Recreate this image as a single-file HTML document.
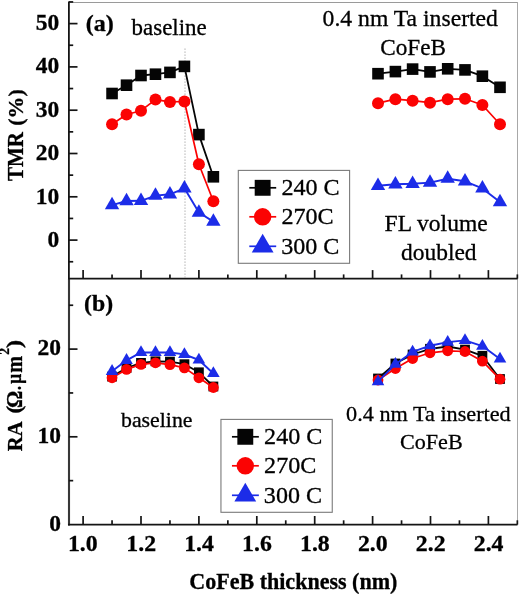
<!DOCTYPE html>
<html><head><meta charset="utf-8"><style>
html,body{margin:0;padding:0;background:#fff;}
svg{display:block;}
text{font-family:"Liberation Serif", "Times New Roman", serif;fill:#000;}
</style></head><body>
<svg width="520" height="594" viewBox="0 0 520 594">
<rect width="520" height="594" fill="#fff"/>
<line x1="68.9" y1="2.5" x2="517.5" y2="2.5" stroke="#9a9a9a" stroke-width="1"/>
<line x1="517.5" y1="2.0" x2="517.5" y2="524.6" stroke="#a8a8a8" stroke-width="1"/>
<line x1="68.9" y1="1.5" x2="68.9" y2="278.7" stroke="#141414" stroke-width="1.8"/>
<line x1="69.0" y1="278.7" x2="69.0" y2="525.5" stroke="#383838" stroke-width="2.1"/>
<line x1="68.0" y1="278.7" x2="517.5" y2="278.7" stroke="#141414" stroke-width="1.7"/>
<line x1="68.0" y1="524.6" x2="517.5" y2="524.6" stroke="#141414" stroke-width="1.7"/>
<line x1="68.9" y1="261.75" x2="73.2" y2="261.75" stroke="#141414" stroke-width="1.7"/>
<line x1="68.9" y1="240.10" x2="77.5" y2="240.10" stroke="#141414" stroke-width="1.7"/>
<line x1="68.9" y1="218.45" x2="73.2" y2="218.45" stroke="#141414" stroke-width="1.7"/>
<line x1="68.9" y1="196.80" x2="77.5" y2="196.80" stroke="#141414" stroke-width="1.7"/>
<line x1="68.9" y1="175.15" x2="73.2" y2="175.15" stroke="#141414" stroke-width="1.7"/>
<line x1="68.9" y1="153.50" x2="77.5" y2="153.50" stroke="#141414" stroke-width="1.7"/>
<line x1="68.9" y1="131.85" x2="73.2" y2="131.85" stroke="#141414" stroke-width="1.7"/>
<line x1="68.9" y1="110.20" x2="77.5" y2="110.20" stroke="#141414" stroke-width="1.7"/>
<line x1="68.9" y1="88.55" x2="73.2" y2="88.55" stroke="#141414" stroke-width="1.7"/>
<line x1="68.9" y1="66.90" x2="77.5" y2="66.90" stroke="#141414" stroke-width="1.7"/>
<line x1="68.9" y1="45.25" x2="73.2" y2="45.25" stroke="#141414" stroke-width="1.7"/>
<line x1="68.9" y1="23.60" x2="77.5" y2="23.60" stroke="#141414" stroke-width="1.7"/>
<line x1="68.9" y1="1.95" x2="73.2" y2="1.95" stroke="#141414" stroke-width="1.7"/>
<line x1="68.9" y1="480.65" x2="73.2" y2="480.65" stroke="#141414" stroke-width="1.7"/>
<line x1="68.9" y1="436.80" x2="77.5" y2="436.80" stroke="#141414" stroke-width="1.7"/>
<line x1="68.9" y1="392.95" x2="73.2" y2="392.95" stroke="#141414" stroke-width="1.7"/>
<line x1="68.9" y1="349.10" x2="77.5" y2="349.10" stroke="#141414" stroke-width="1.7"/>
<line x1="68.9" y1="305.25" x2="73.2" y2="305.25" stroke="#141414" stroke-width="1.7"/>
<line x1="83.10" y1="278.7" x2="83.10" y2="270.09999999999997" stroke="#141414" stroke-width="1.7"/>
<line x1="83.10" y1="524.6" x2="83.10" y2="516.0" stroke="#141414" stroke-width="1.7"/>
<line x1="112.05" y1="278.7" x2="112.05" y2="274.4" stroke="#141414" stroke-width="1.7"/>
<line x1="112.05" y1="524.6" x2="112.05" y2="520.3000000000001" stroke="#141414" stroke-width="1.7"/>
<line x1="141.00" y1="278.7" x2="141.00" y2="270.09999999999997" stroke="#141414" stroke-width="1.7"/>
<line x1="141.00" y1="524.6" x2="141.00" y2="516.0" stroke="#141414" stroke-width="1.7"/>
<line x1="169.95" y1="278.7" x2="169.95" y2="274.4" stroke="#141414" stroke-width="1.7"/>
<line x1="169.95" y1="524.6" x2="169.95" y2="520.3000000000001" stroke="#141414" stroke-width="1.7"/>
<line x1="198.90" y1="278.7" x2="198.90" y2="270.09999999999997" stroke="#141414" stroke-width="1.7"/>
<line x1="198.90" y1="524.6" x2="198.90" y2="516.0" stroke="#141414" stroke-width="1.7"/>
<line x1="227.85" y1="278.7" x2="227.85" y2="274.4" stroke="#141414" stroke-width="1.7"/>
<line x1="227.85" y1="524.6" x2="227.85" y2="520.3000000000001" stroke="#141414" stroke-width="1.7"/>
<line x1="256.80" y1="278.7" x2="256.80" y2="270.09999999999997" stroke="#141414" stroke-width="1.7"/>
<line x1="256.80" y1="524.6" x2="256.80" y2="516.0" stroke="#141414" stroke-width="1.7"/>
<line x1="285.75" y1="278.7" x2="285.75" y2="274.4" stroke="#141414" stroke-width="1.7"/>
<line x1="285.75" y1="524.6" x2="285.75" y2="520.3000000000001" stroke="#141414" stroke-width="1.7"/>
<line x1="314.70" y1="278.7" x2="314.70" y2="270.09999999999997" stroke="#141414" stroke-width="1.7"/>
<line x1="314.70" y1="524.6" x2="314.70" y2="516.0" stroke="#141414" stroke-width="1.7"/>
<line x1="343.65" y1="278.7" x2="343.65" y2="274.4" stroke="#141414" stroke-width="1.7"/>
<line x1="343.65" y1="524.6" x2="343.65" y2="520.3000000000001" stroke="#141414" stroke-width="1.7"/>
<line x1="372.60" y1="278.7" x2="372.60" y2="270.09999999999997" stroke="#141414" stroke-width="1.7"/>
<line x1="372.60" y1="524.6" x2="372.60" y2="516.0" stroke="#141414" stroke-width="1.7"/>
<line x1="401.55" y1="278.7" x2="401.55" y2="274.4" stroke="#141414" stroke-width="1.7"/>
<line x1="401.55" y1="524.6" x2="401.55" y2="520.3000000000001" stroke="#141414" stroke-width="1.7"/>
<line x1="430.50" y1="278.7" x2="430.50" y2="270.09999999999997" stroke="#141414" stroke-width="1.7"/>
<line x1="430.50" y1="524.6" x2="430.50" y2="516.0" stroke="#141414" stroke-width="1.7"/>
<line x1="459.45" y1="278.7" x2="459.45" y2="274.4" stroke="#141414" stroke-width="1.7"/>
<line x1="459.45" y1="524.6" x2="459.45" y2="520.3000000000001" stroke="#141414" stroke-width="1.7"/>
<line x1="488.40" y1="278.7" x2="488.40" y2="270.09999999999997" stroke="#141414" stroke-width="1.7"/>
<line x1="488.40" y1="524.6" x2="488.40" y2="516.0" stroke="#141414" stroke-width="1.7"/>
<line x1="517.35" y1="278.7" x2="517.35" y2="274.4" stroke="#141414" stroke-width="1.7"/>
<line x1="517.35" y1="524.6" x2="517.35" y2="520.3000000000001" stroke="#141414" stroke-width="1.7"/>
<line x1="185.0" y1="48.5" x2="185.0" y2="278.7" stroke="#a6a6a6" stroke-width="1" stroke-dasharray="1.3,1.7"/>
<polyline points="112.05,93.50 126.52,85.20 141.00,75.50 155.47,74.20 169.95,72.40 184.43,66.40 198.90,134.60 213.37,176.80" fill="none" stroke="#050505" stroke-width="1.8" stroke-linejoin="round"/>
<polyline points="378.00,73.70 395.40,71.60 412.60,69.10 430.00,71.90 447.70,68.80 465.00,69.90 482.40,76.20 500.00,87.30" fill="none" stroke="#050505" stroke-width="1.8" stroke-linejoin="round"/>
<rect x="106.25" y="87.70" width="11.60" height="11.60" fill="#050505"/>
<rect x="120.72" y="79.40" width="11.60" height="11.60" fill="#050505"/>
<rect x="135.20" y="69.70" width="11.60" height="11.60" fill="#050505"/>
<rect x="149.67" y="68.40" width="11.60" height="11.60" fill="#050505"/>
<rect x="164.15" y="66.60" width="11.60" height="11.60" fill="#050505"/>
<rect x="178.62" y="60.60" width="11.60" height="11.60" fill="#050505"/>
<rect x="193.10" y="128.80" width="11.60" height="11.60" fill="#050505"/>
<rect x="207.57" y="171.00" width="11.60" height="11.60" fill="#050505"/>
<rect x="372.20" y="67.90" width="11.60" height="11.60" fill="#050505"/>
<rect x="389.60" y="65.80" width="11.60" height="11.60" fill="#050505"/>
<rect x="406.80" y="63.30" width="11.60" height="11.60" fill="#050505"/>
<rect x="424.20" y="66.10" width="11.60" height="11.60" fill="#050505"/>
<rect x="441.90" y="63.00" width="11.60" height="11.60" fill="#050505"/>
<rect x="459.20" y="64.10" width="11.60" height="11.60" fill="#050505"/>
<rect x="476.60" y="70.40" width="11.60" height="11.60" fill="#050505"/>
<rect x="494.20" y="81.50" width="11.60" height="11.60" fill="#050505"/>
<polyline points="112.05,124.20 126.52,114.50 141.00,110.70 155.47,99.60 169.95,101.90 184.43,101.50 198.90,164.30 213.37,201.30" fill="none" stroke="#fb0303" stroke-width="1.7" stroke-linejoin="round"/>
<polyline points="378.00,103.20 395.40,99.20 412.60,100.70 430.00,102.70 447.70,99.20 465.00,98.80 482.40,105.00 500.00,124.20" fill="none" stroke="#fb0303" stroke-width="1.7" stroke-linejoin="round"/>
<circle cx="112.05" cy="124.20" r="6.00" fill="#fb0303"/>
<circle cx="126.52" cy="114.50" r="6.00" fill="#fb0303"/>
<circle cx="141.00" cy="110.70" r="6.00" fill="#fb0303"/>
<circle cx="155.47" cy="99.60" r="6.00" fill="#fb0303"/>
<circle cx="169.95" cy="101.90" r="6.00" fill="#fb0303"/>
<circle cx="184.43" cy="101.50" r="6.00" fill="#fb0303"/>
<circle cx="198.90" cy="164.30" r="6.00" fill="#fb0303"/>
<circle cx="213.37" cy="201.30" r="6.00" fill="#fb0303"/>
<circle cx="378.00" cy="103.20" r="6.00" fill="#fb0303"/>
<circle cx="395.40" cy="99.20" r="6.00" fill="#fb0303"/>
<circle cx="412.60" cy="100.70" r="6.00" fill="#fb0303"/>
<circle cx="430.00" cy="102.70" r="6.00" fill="#fb0303"/>
<circle cx="447.70" cy="99.20" r="6.00" fill="#fb0303"/>
<circle cx="465.00" cy="98.80" r="6.00" fill="#fb0303"/>
<circle cx="482.40" cy="105.00" r="6.00" fill="#fb0303"/>
<circle cx="500.00" cy="124.20" r="6.00" fill="#fb0303"/>
<polyline points="112.05,205.20 126.52,201.00 141.00,200.80 155.47,195.60 169.95,194.30 184.43,188.30 198.90,212.50 213.37,221.60" fill="none" stroke="#1c2ce8" stroke-width="1.9" stroke-linejoin="round"/>
<polyline points="378.00,185.80 395.40,184.30 412.60,183.80 430.00,182.60 447.70,178.70 465.00,181.30 482.40,188.40 500.00,202.10" fill="none" stroke="#1c2ce8" stroke-width="1.9" stroke-linejoin="round"/>
<polygon points="112.05,196.87 119.25,209.37 104.85,209.37" fill="#1c2ce8"/>
<polygon points="126.52,192.67 133.72,205.17 119.32,205.17" fill="#1c2ce8"/>
<polygon points="141.00,192.47 148.20,204.97 133.80,204.97" fill="#1c2ce8"/>
<polygon points="155.47,187.27 162.67,199.77 148.28,199.77" fill="#1c2ce8"/>
<polygon points="169.95,185.97 177.15,198.47 162.75,198.47" fill="#1c2ce8"/>
<polygon points="184.43,179.97 191.62,192.47 177.23,192.47" fill="#1c2ce8"/>
<polygon points="198.90,204.17 206.10,216.67 191.70,216.67" fill="#1c2ce8"/>
<polygon points="213.37,213.27 220.57,225.77 206.17,225.77" fill="#1c2ce8"/>
<polygon points="378.00,177.47 385.20,189.97 370.80,189.97" fill="#1c2ce8"/>
<polygon points="395.40,175.97 402.60,188.47 388.20,188.47" fill="#1c2ce8"/>
<polygon points="412.60,175.47 419.80,187.97 405.40,187.97" fill="#1c2ce8"/>
<polygon points="430.00,174.27 437.20,186.77 422.80,186.77" fill="#1c2ce8"/>
<polygon points="447.70,170.37 454.90,182.87 440.50,182.87" fill="#1c2ce8"/>
<polygon points="465.00,172.97 472.20,185.47 457.80,185.47" fill="#1c2ce8"/>
<polygon points="482.40,180.07 489.60,192.57 475.20,192.57" fill="#1c2ce8"/>
<polygon points="500.00,193.77 507.20,206.27 492.80,206.27" fill="#1c2ce8"/>
<polyline points="112.05,376.60 126.52,368.00 141.00,362.90 155.47,361.30 169.95,361.60 184.43,364.20 198.90,372.30 213.37,386.50" fill="none" stroke="#050505" stroke-width="1.8" stroke-linejoin="round"/>
<polyline points="378.00,378.50 395.40,363.50 412.60,354.50 430.00,348.80 447.70,346.50 465.00,349.60 482.40,355.80 500.00,379.00" fill="none" stroke="#050505" stroke-width="1.8" stroke-linejoin="round"/>
<rect x="107.15" y="371.70" width="9.80" height="9.80" fill="#050505"/>
<rect x="121.62" y="363.10" width="9.80" height="9.80" fill="#050505"/>
<rect x="136.10" y="358.00" width="9.80" height="9.80" fill="#050505"/>
<rect x="150.57" y="356.40" width="9.80" height="9.80" fill="#050505"/>
<rect x="165.05" y="356.70" width="9.80" height="9.80" fill="#050505"/>
<rect x="179.53" y="359.30" width="9.80" height="9.80" fill="#050505"/>
<rect x="194.00" y="367.40" width="9.80" height="9.80" fill="#050505"/>
<rect x="208.47" y="381.60" width="9.80" height="9.80" fill="#050505"/>
<rect x="373.10" y="373.60" width="9.80" height="9.80" fill="#050505"/>
<rect x="390.50" y="358.60" width="9.80" height="9.80" fill="#050505"/>
<rect x="407.70" y="349.60" width="9.80" height="9.80" fill="#050505"/>
<rect x="425.10" y="343.90" width="9.80" height="9.80" fill="#050505"/>
<rect x="442.80" y="341.60" width="9.80" height="9.80" fill="#050505"/>
<rect x="460.10" y="344.70" width="9.80" height="9.80" fill="#050505"/>
<rect x="477.50" y="350.90" width="9.80" height="9.80" fill="#050505"/>
<rect x="495.10" y="374.10" width="9.80" height="9.80" fill="#050505"/>
<polyline points="112.05,377.80 126.52,369.40 141.00,364.40 155.47,362.80 169.95,364.60 184.43,367.90 198.90,377.80 213.37,387.50" fill="none" stroke="#fb0303" stroke-width="1.7" stroke-linejoin="round"/>
<polyline points="378.00,380.00 395.40,368.50 412.60,358.50 430.00,352.80 447.70,350.80 465.00,351.50 482.40,361.20 500.00,379.20" fill="none" stroke="#fb0303" stroke-width="1.7" stroke-linejoin="round"/>
<circle cx="112.05" cy="377.80" r="5.40" fill="#fb0303"/>
<circle cx="126.52" cy="369.40" r="5.40" fill="#fb0303"/>
<circle cx="141.00" cy="364.40" r="5.40" fill="#fb0303"/>
<circle cx="155.47" cy="362.80" r="5.40" fill="#fb0303"/>
<circle cx="169.95" cy="364.60" r="5.40" fill="#fb0303"/>
<circle cx="184.43" cy="367.90" r="5.40" fill="#fb0303"/>
<circle cx="198.90" cy="377.80" r="5.40" fill="#fb0303"/>
<circle cx="213.37" cy="387.50" r="5.40" fill="#fb0303"/>
<circle cx="378.00" cy="380.00" r="5.40" fill="#fb0303"/>
<circle cx="395.40" cy="368.50" r="5.40" fill="#fb0303"/>
<circle cx="412.60" cy="358.50" r="5.40" fill="#fb0303"/>
<circle cx="430.00" cy="352.80" r="5.40" fill="#fb0303"/>
<circle cx="447.70" cy="350.80" r="5.40" fill="#fb0303"/>
<circle cx="465.00" cy="351.50" r="5.40" fill="#fb0303"/>
<circle cx="482.40" cy="361.20" r="5.40" fill="#fb0303"/>
<circle cx="500.00" cy="379.20" r="5.40" fill="#fb0303"/>
<polyline points="112.05,371.30 126.52,360.30 141.00,352.40 155.47,352.50 169.95,352.50 184.43,354.40 198.90,360.00 213.37,373.50" fill="none" stroke="#1c2ce8" stroke-width="1.9" stroke-linejoin="round"/>
<polyline points="378.00,381.70 395.40,364.20 412.60,351.90 430.00,345.70 447.70,342.10 465.00,340.40 482.40,346.10 500.00,359.00" fill="none" stroke="#1c2ce8" stroke-width="1.9" stroke-linejoin="round"/>
<polygon points="112.05,364.10 118.35,374.90 105.75,374.90" fill="#1c2ce8"/>
<polygon points="126.52,353.10 132.82,363.90 120.22,363.90" fill="#1c2ce8"/>
<polygon points="141.00,345.20 147.30,356.00 134.70,356.00" fill="#1c2ce8"/>
<polygon points="155.47,345.30 161.78,356.10 149.17,356.10" fill="#1c2ce8"/>
<polygon points="169.95,345.30 176.25,356.10 163.65,356.10" fill="#1c2ce8"/>
<polygon points="184.43,347.20 190.73,358.00 178.12,358.00" fill="#1c2ce8"/>
<polygon points="198.90,352.80 205.20,363.60 192.60,363.60" fill="#1c2ce8"/>
<polygon points="213.37,366.30 219.67,377.10 207.07,377.10" fill="#1c2ce8"/>
<polygon points="378.00,374.50 384.30,385.30 371.70,385.30" fill="#1c2ce8"/>
<polygon points="395.40,357.00 401.70,367.80 389.10,367.80" fill="#1c2ce8"/>
<polygon points="412.60,344.70 418.90,355.50 406.30,355.50" fill="#1c2ce8"/>
<polygon points="430.00,338.50 436.30,349.30 423.70,349.30" fill="#1c2ce8"/>
<polygon points="447.70,334.90 454.00,345.70 441.40,345.70" fill="#1c2ce8"/>
<polygon points="465.00,333.20 471.30,344.00 458.70,344.00" fill="#1c2ce8"/>
<polygon points="482.40,338.90 488.70,349.70 476.10,349.70" fill="#1c2ce8"/>
<polygon points="500.00,351.80 506.30,362.60 493.70,362.60" fill="#1c2ce8"/>
<text transform="matrix(0.23500,0,0,0.22800,47.49,246.68)" font-size="100" font-weight="bold" stroke="#000" stroke-width="1.30">0</text>
<text transform="matrix(0.23500,0,0,0.22800,35.74,203.50)" font-size="100" font-weight="bold" stroke="#000" stroke-width="1.30">10</text>
<text transform="matrix(0.23500,0,0,0.22800,35.74,160.08)" font-size="100" font-weight="bold" stroke="#000" stroke-width="1.30">20</text>
<text transform="matrix(0.23500,0,0,0.22800,35.74,116.78)" font-size="100" font-weight="bold" stroke="#000" stroke-width="1.30">30</text>
<text transform="matrix(0.23500,0,0,0.22800,35.74,73.48)" font-size="100" font-weight="bold" stroke="#000" stroke-width="1.30">40</text>
<text transform="matrix(0.23500,0,0,0.22800,35.74,30.18)" font-size="100" font-weight="bold" stroke="#000" stroke-width="1.30">50</text>
<text transform="matrix(0.23500,0,0,0.22800,49.29,530.88)" font-size="100" font-weight="bold" stroke="#000" stroke-width="1.30">0</text>
<text transform="matrix(0.23500,0,0,0.22800,37.54,443.30)" font-size="100" font-weight="bold" stroke="#000" stroke-width="1.30">10</text>
<text transform="matrix(0.23500,0,0,0.22800,37.54,355.48)" font-size="100" font-weight="bold" stroke="#000" stroke-width="1.30">20</text>
<text transform="matrix(0.23800,0,0,0.22800,67.95,550.74)" font-size="100" font-weight="bold" stroke="#000" stroke-width="1.29">1.0</text>
<text transform="matrix(0.23800,0,0,0.22800,126.32,550.74)" font-size="100" font-weight="bold" stroke="#000" stroke-width="1.29">1.2</text>
<text transform="matrix(0.23800,0,0,0.22800,184.22,550.74)" font-size="100" font-weight="bold" stroke="#000" stroke-width="1.29">1.4</text>
<text transform="matrix(0.23800,0,0,0.22800,242.12,550.74)" font-size="100" font-weight="bold" stroke="#000" stroke-width="1.29">1.6</text>
<text transform="matrix(0.23800,0,0,0.22800,300.03,550.74)" font-size="100" font-weight="bold" stroke="#000" stroke-width="1.29">1.8</text>
<text transform="matrix(0.23800,0,0,0.22800,357.93,550.74)" font-size="100" font-weight="bold" stroke="#000" stroke-width="1.29">2.0</text>
<text transform="matrix(0.23800,0,0,0.22800,415.82,550.74)" font-size="100" font-weight="bold" stroke="#000" stroke-width="1.29">2.2</text>
<text transform="matrix(0.23800,0,0,0.22800,473.73,550.74)" font-size="100" font-weight="bold" stroke="#000" stroke-width="1.29">2.4</text>
<text transform="matrix(0.22043,0,0,0.22576,189.30,589.27)" font-size="100" font-weight="bold" stroke="#000" stroke-width="1.34">CoFeB thickness (nm)</text>
<text transform="translate(23.00,181.02) rotate(-90) scale(0.21034,0.22462)" font-size="100" font-weight="bold" stroke="#000" stroke-width="1.38">TMR</text>
<text transform="translate(22.56,125.78) rotate(-90) scale(0.21899,0.20667)" font-size="100" font-weight="bold" stroke="#000" stroke-width="1.41">(%)</text>
<text transform="translate(22.10,451.21) rotate(-90) scale(0.20563,0.21364)" font-size="100" font-weight="bold" stroke="#000" stroke-width="1.43">RA</text>
<text transform="translate(21.00,413.54) rotate(-90) scale(0.23462,0.21444)" font-size="100" font-weight="bold" stroke="#000" stroke-width="1.34">(</text>
<text transform="translate(21.88,408.08) rotate(-90) scale(0.21549,0.22121)" font-size="100" font-weight="bold" stroke="#000" stroke-width="1.37">Ω</text>
<text transform="translate(21.31,389.94) rotate(-90) scale(0.15882,0.19375)" font-size="100" font-weight="bold" stroke="#000" stroke-width="1.70">.</text>
<text transform="translate(21.37,383.77) rotate(-90) scale(0.17407,0.20149)" font-size="100" font-weight="bold" stroke="#000" stroke-width="1.60">μ</text>
<text transform="translate(21.50,372.81) rotate(-90) scale(0.20253,0.22766)" font-size="100" font-weight="bold" stroke="#000" stroke-width="1.39">m</text>
<text transform="translate(8.76,354.74) rotate(-90) scale(0.13571,0.13939)" font-size="100" font-weight="bold" stroke="#000" stroke-width="2.18">2</text>
<text transform="translate(21.17,348.03) rotate(-90) scale(0.24231,0.21556)" font-size="100" font-weight="bold" stroke="#000" stroke-width="1.31">)</text>
<text transform="matrix(0.24074,0,0,0.22444,85.74,30.79)" font-size="100" font-weight="bold" stroke="#000" stroke-width="1.29">(a)</text>
<text transform="matrix(0.23772,0,0,0.22444,84.05,311.29)" font-size="100" font-weight="bold" stroke="#000" stroke-width="1.30">(b)</text>
<text transform="matrix(0.22994,0,0,0.23200,131.50,35.07)" font-size="100" stroke="#000" stroke-width="1.30">baseline</text>
<text transform="matrix(0.23682,0,0,0.23400,322.55,26.13)" font-size="100" stroke="#000" stroke-width="1.27">0.4 nm Ta inserted</text>
<text transform="matrix(0.23200,0,0,0.23300,380.27,55.23)" font-size="100" stroke="#000" stroke-width="1.29">CoFeB</text>
<text transform="matrix(0.23550,0,0,0.23200,384.59,230.97)" font-size="100" stroke="#000" stroke-width="1.28">FL volume</text>
<text transform="matrix(0.23470,0,0,0.23200,400.96,260.07)" font-size="100" stroke="#000" stroke-width="1.29">doubled</text>
<text transform="matrix(0.21821,0,0,0.22000,121.00,427.18)" font-size="100" stroke="#000" stroke-width="1.37">baseline</text>
<text transform="matrix(0.22215,0,0,0.21500,346.11,420.97)" font-size="100" stroke="#000" stroke-width="1.37">0.4 nm Ta inserted</text>
<text transform="matrix(0.22109,0,0,0.21600,400.02,448.67)" font-size="100" stroke="#000" stroke-width="1.37">CoFeB</text>
<rect x="238.3" y="170.4" width="111.30000000000001" height="92.9" fill="#fff" stroke="#7a7a7a" stroke-width="1.1"/>
<line x1="249.3" y1="187.8" x2="276.2" y2="187.8" stroke="#050505" stroke-width="1.7"/>
<rect x="254.70" y="179.85" width="15.90" height="15.90" fill="#050505"/>
<text transform="matrix(0.24100,0,0,0.23000,281.44,195.14)" font-size="100" stroke="#000" stroke-width="1.27">240 C</text>
<line x1="249.3" y1="216.8" x2="276.2" y2="216.8" stroke="#fb0303" stroke-width="1.7"/>
<circle cx="262.65" cy="216.80" r="8.70" fill="#fb0303"/>
<text transform="matrix(0.24100,0,0,0.23000,281.44,224.34)" font-size="100" stroke="#000" stroke-width="1.27">270C</text>
<line x1="249.3" y1="246.3" x2="276.2" y2="246.3" stroke="#1c2ce8" stroke-width="1.7"/>
<polygon points="262.65,233.70 273.55,252.60 251.75,252.60" fill="#1c2ce8"/>
<text transform="matrix(0.24100,0,0,0.23000,281.19,253.94)" font-size="100" stroke="#000" stroke-width="1.27">300 C</text>
<rect x="220.95000000000002" y="419.4" width="111.30000000000001" height="92.9" fill="#fff" stroke="#7a7a7a" stroke-width="1.1"/>
<line x1="231.95000000000002" y1="436.8" x2="258.84999999999997" y2="436.8" stroke="#050505" stroke-width="1.7"/>
<rect x="237.35" y="428.85" width="15.90" height="15.90" fill="#050505"/>
<text transform="matrix(0.24100,0,0,0.23000,264.09,444.14)" font-size="100" stroke="#000" stroke-width="1.27">240 C</text>
<line x1="231.95000000000002" y1="465.8" x2="258.84999999999997" y2="465.8" stroke="#fb0303" stroke-width="1.7"/>
<circle cx="245.30" cy="465.80" r="8.70" fill="#fb0303"/>
<text transform="matrix(0.24100,0,0,0.23000,264.09,473.34)" font-size="100" stroke="#000" stroke-width="1.27">270C</text>
<line x1="231.95000000000002" y1="495.3" x2="258.84999999999997" y2="495.3" stroke="#1c2ce8" stroke-width="1.7"/>
<polygon points="245.30,482.70 256.20,501.60 234.40,501.60" fill="#1c2ce8"/>
<text transform="matrix(0.24100,0,0,0.23000,263.84,502.94)" font-size="100" stroke="#000" stroke-width="1.27">300 C</text>
</svg>
</body></html>
